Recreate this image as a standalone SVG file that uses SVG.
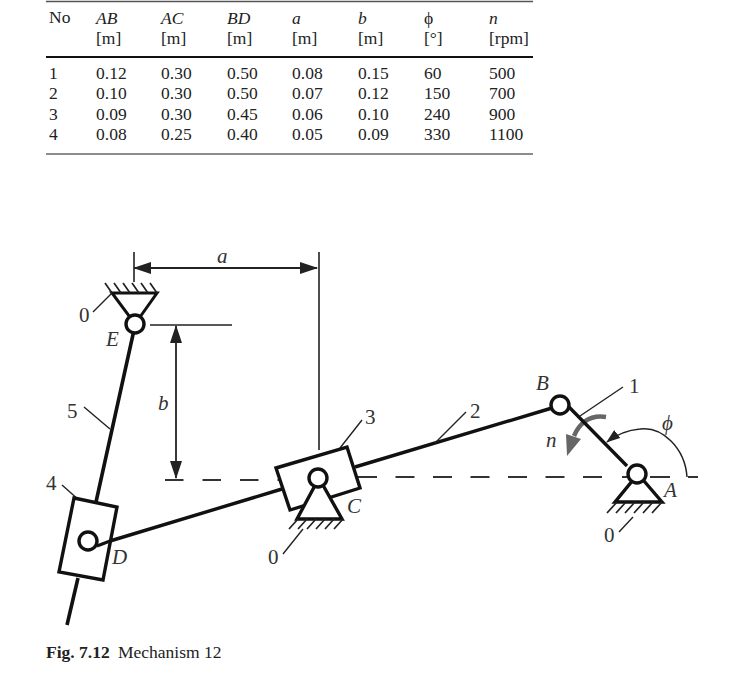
<svg xmlns="http://www.w3.org/2000/svg" width="748" height="680" viewBox="0 0 748 680">
<style>
text{font-family:"Liberation Serif","Times New Roman",serif;font-size:17.5px;fill:#222}
.i{font-style:italic}
.l{font-size:21px;fill:#333}
.s{stroke:#111;fill:none;stroke-width:3.4}
.t{stroke:#222;fill:none;stroke-width:1.4}
.h{stroke:#222;fill:none;stroke-width:1.7}
.d{stroke:#333;fill:none;stroke-width:1.8}
.p{stroke:#111;fill:#fff;stroke-width:3.4}
</style>
<defs>
<marker id="ar" markerWidth="18" markerHeight="12" refX="17" refY="6" orient="auto-start-reverse" markerUnits="userSpaceOnUse"><path d="M0 0L18 6L0 12Z" fill="#222"/></marker>
<marker id="ar2" markerWidth="14" markerHeight="10" refX="13" refY="5" orient="auto" markerUnits="userSpaceOnUse"><path d="M0 0L14 5L0 10Z" fill="#222"/></marker>
</defs>
<g id="table">
<path d="M46 1.5H533" stroke="#555" stroke-width="1.5"/>
<path d="M46 57H533" stroke="#111" stroke-width="2"/>
<path d="M46 154H533" stroke="#666" stroke-width="1.5"/>
<text x="49" y="23">No</text><text x="96" y="24" class="i">AB</text><text x="161" y="24" class="i">AC</text><text x="227" y="24" class="i">BD</text><text x="292" y="24" class="i">a</text><text x="358" y="24" class="i">b</text><text x="424" y="24">ϕ</text><text x="489" y="24" class="i">n</text>
<text x="96" y="44">[m]</text><text x="161" y="44">[m]</text><text x="227" y="44">[m]</text><text x="292" y="44">[m]</text><text x="358" y="44">[m]</text><text x="424" y="44">[°]</text><text x="489" y="44">[rpm]</text>
<text x="49" y="79">1</text><text x="96" y="79">0.12</text><text x="161" y="79">0.30</text><text x="227" y="79">0.50</text><text x="292" y="79">0.08</text><text x="358" y="79">0.15</text><text x="424" y="79">60</text><text x="489" y="79">500</text>
<text x="49" y="99">2</text><text x="96" y="99">0.10</text><text x="161" y="99">0.30</text><text x="227" y="99">0.50</text><text x="292" y="99">0.07</text><text x="358" y="99">0.12</text><text x="424" y="99">150</text><text x="489" y="99">700</text>
<text x="49" y="120">3</text><text x="96" y="120">0.09</text><text x="161" y="120">0.30</text><text x="227" y="120">0.45</text><text x="292" y="120">0.06</text><text x="358" y="120">0.10</text><text x="424" y="120">240</text><text x="489" y="120">900</text>
<text x="49" y="140">4</text><text x="96" y="140">0.08</text><text x="161" y="140">0.25</text><text x="227" y="140">0.40</text><text x="292" y="140">0.05</text><text x="358" y="140">0.09</text><text x="424" y="140">330</text><text x="489" y="140">1100</text>
</g>
<g id="connectors">
<path class="d" stroke-dasharray="18.5 19" d="M165 480H279"/>
<path class="d" stroke-dasharray="19 18.5" d="M358 477H603"/>
<path class="d" d="M622 477H628M650 477H670M688 477H698"/>
<path class="t" style="stroke-width:1.6" d="M134 252V282M319 252V450M150 325H232"/>
<path class="t" style="stroke-width:1.8" d="M134 268H317" marker-start="url(#ar)" marker-end="url(#ar)"/>
<path class="t" style="stroke-width:1.8" d="M176 326V478" marker-start="url(#ar)" marker-end="url(#ar)"/>
<path d="M606 417C592 415 581 420 574 436" fill="none" stroke="#666" stroke-width="4.5"/>
<path d="M566 434L581 439L567 456Z" fill="#666"/>
<path class="s" d="M134 330L96 502M78 578L67 625" style="stroke-width:3.6"/>
<path class="s" d="M110 541L282 489M355 467L552 408M567 405L627 466"/>
<path class="t" d="M84 407L110 429M62 485L89 509M340 448L362 420M435 443L466 412M580 416L623 387M93 312L112 293M283 554L303 529M619 532L633 517"/>
<path class="t" style="stroke-width:1.5" d="M687 477C685 448 662 426 640 429C628 430 616 435 607 442" marker-end="url(#ar2)"/>
</g>
<g id="ground-E">
<path class="s" d="M112 293H157L135 324Z" style="stroke-width:3"/>
<path class="h" d="M105 283L112 293M114 283L121 293M123 283L130 293M132 283L139 293M141 283L148 293M150 283L157 293"/>
</g>
<g id="slider-C">
<path class="p" d="M276 468L347 447L360 488L290 510Z"/>
</g>
<g id="slider-D">
<path class="p" d="M74 498L117 507L103 580L59 572Z"/>
<path class="s" d="M97 546L110 541" style="stroke-width:3"/>
</g>
<g id="ground-C">
<path class="p" d="M319 478L342 519H297Z"/>
<path class="h" d="M289 529L298 519M298 529L307 519M307 529L316 519M316 529L325 519M325 529L334 519M334 529L343 519"/>
</g>
<g id="ground-A">
<path class="p" d="M638 474L662 502H615Z"/>
<path class="h" d="M607 513L617 502M616 513L626 502M625 513L635 502M634 513L644 502M643 513L653 502M652 513L662 502"/>
</g>
<g id="pins">
<circle id="E" class="p" cx="135" cy="324" r="9"/>
<circle id="A" class="p" cx="637" cy="474" r="9"/>
<circle id="B" class="p" cx="560" cy="405" r="9"/>
<circle id="C" class="p" cx="318" cy="478" r="9"/>
<circle id="D" class="p" cx="88" cy="541" r="9"/>
</g>
<g id="labels">
<text class="l" x="79" y="322">0</text><text class="l i" x="106" y="346">E</text>
<text class="l" x="67" y="418">5</text><text class="l" x="46" y="490">4</text>
<text class="l i" x="158" y="410">b</text><text class="l i" x="217" y="263">a</text>
<text class="l i" x="112" y="564">D</text><text class="l" x="268" y="564">0</text><text class="l i" x="347" y="513">C</text>
<text class="l" x="365" y="424">3</text><text class="l" x="470" y="418">2</text>
<text class="l i" x="536" y="390">B</text><text class="l" x="629" y="393">1</text>
<text class="l i" x="546" y="447">n</text><text class="l i" x="662" y="430">ϕ</text>
<text class="l i" x="664" y="497">A</text><text class="l" x="604" y="542">0</text>
</g>
<g id="caption">
<text x="46" y="658" style="font-weight:bold">Fig. 7.12</text><text x="118" y="658">Mechanism 12</text>
</g>
</svg>
